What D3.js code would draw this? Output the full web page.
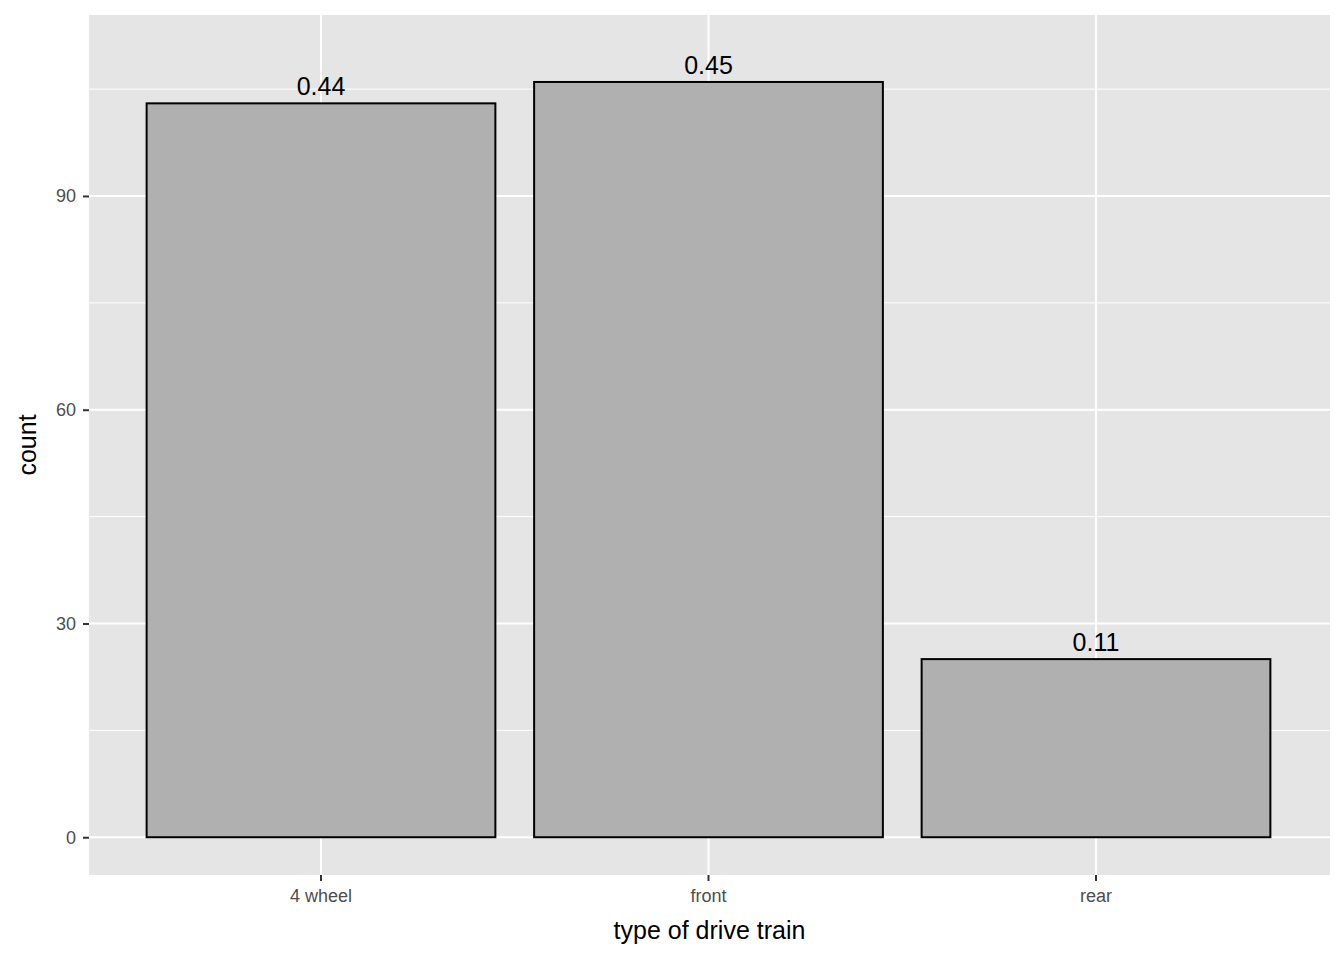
<!DOCTYPE html>
<html lang="en">
<head>
<meta charset="UTF-8">
<title>drive train</title>
<style>
  body { margin: 0; background: #fff; }
  text { font-family: "Liberation Sans", Arial, sans-serif; }
</style>
<script src="https://d3js.org/d3.v7.min.js"></script>
</head>
<body>
<svg id="chart" width="1344" height="960"></svg>
<script>
const categories = ["4 wheel", "front", "rear"];
const counts = [103, 106, 25];
const props = ["0.44", "0.45", "0.11"];
const yTicks = [0, 30, 60, 90];
const yMinor = [15, 45, 75, 105];

const svg = d3.select("#chart");
const panel = {left: 89, right: 1330, top: 15, bottom: 875};

const y = d3.scaleLinear().domain([-5.3, 115.4]).range([panel.bottom, panel.top]);
const x = d3.scaleBand().domain(categories).range([127.25, 1289.75])
    .paddingInner(0.1).paddingOuter(0.05);

// panel background
svg.append("rect")
    .attr("x", panel.left).attr("y", panel.top)
    .attr("width", panel.right - panel.left).attr("height", panel.bottom - panel.top)
    .attr("fill", "#e5e5e5");

// grid lines
svg.selectAll(".minor").data(yMinor).join("line")
    .attr("x1", panel.left).attr("x2", panel.right)
    .attr("y1", d => y(d)).attr("y2", d => y(d))
    .attr("stroke", "#fff").attr("stroke-width", 1);
svg.selectAll(".major").data(yTicks).join("line")
    .attr("x1", panel.left).attr("x2", panel.right)
    .attr("y1", d => y(d)).attr("y2", d => y(d))
    .attr("stroke", "#fff").attr("stroke-width", 2);
svg.selectAll(".vgrid").data(categories).join("line")
    .attr("x1", d => x(d) + x.bandwidth() / 2).attr("x2", d => x(d) + x.bandwidth() / 2)
    .attr("y1", panel.top).attr("y2", panel.bottom)
    .attr("stroke", "#fff").attr("stroke-width", 2);

// bars
svg.selectAll(".bar").data(categories).join("rect")
    .attr("x", d => x(d))
    .attr("y", (d, i) => y(counts[i]))
    .attr("width", x.bandwidth())
    .attr("height", (d, i) => y(0) - y(counts[i]))
    .attr("fill", "#b0b0b0").attr("stroke", "#000").attr("stroke-width", 2);

// proportion labels
svg.selectAll(".lab").data(categories).join("text")
    .attr("x", d => x(d) + x.bandwidth() / 2)
    .attr("y", (d, i) => y(counts[i]) - 8)
    .attr("text-anchor", "middle").style("font-size", "25px").attr("fill", "#000")
    .text((d, i) => props[i]);

// y axis
const yAxis = svg.append("g")
    .attr("transform", `translate(${panel.left},0)`)
    .call(d3.axisLeft(y).tickValues(yTicks).tickSize(6).tickPadding(7));
yAxis.select(".domain").remove();
yAxis.selectAll(".tick line").attr("stroke", "#333").attr("stroke-width", 2);
yAxis.selectAll(".tick text").style("font-size", "18px").attr("fill", "#4d4d4d");

// x axis
const xAxis = svg.append("g")
    .attr("transform", `translate(0,${panel.bottom})`)
    .call(d3.axisBottom(x).tickSize(6).tickPadding(8));
xAxis.select(".domain").remove();
xAxis.selectAll(".tick line").attr("stroke", "#333").attr("stroke-width", 2);
xAxis.selectAll(".tick text").style("font-size", "18px").attr("fill", "#4d4d4d");

// axis titles
svg.append("text")
    .attr("x", (panel.left + panel.right) / 2).attr("y", 939)
    .attr("text-anchor", "middle").style("font-size", "25px").text("type of drive train");
svg.append("text")
    .attr("transform", `translate(36,${(panel.top + panel.bottom) / 2}) rotate(-90)`)
    .attr("text-anchor", "middle").style("font-size", "25px").text("count");
</script>
</body>
</html>
